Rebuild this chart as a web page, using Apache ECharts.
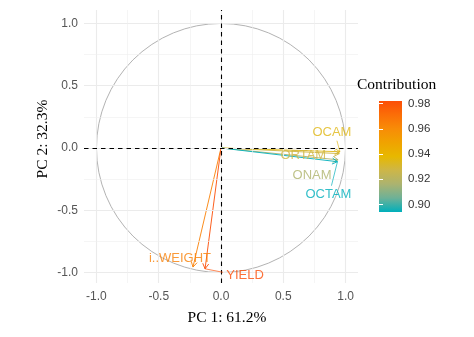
<!DOCTYPE html>
<html>
<head>
<meta charset="utf-8">
<script src="https://cdn.jsdelivr.net/npm/echarts@6/dist/echarts.min.js"></script>
<style>
html, body { margin: 0; padding: 0; background: #fff; }
#chart { width: 474px; height: 337px; }
</style>
</head>
<body>
<div id="chart"></div>
<script>
// variables, loadings on PC1 / PC2, contribution (cos2)
const varNames = ['OCAM', 'ORTAM', 'ONAM', 'OCTAM', 'i..WEIGHT', 'YIELD'];
const pc1 = [0.955, 0.95, 0.94, 0.935, -0.225, -0.128];
const pc2 = [-0.03, -0.045, -0.095, -0.11, -0.956, -0.97];
const contrib = [0.935, 0.928, 0.917, 0.894, 0.964, 0.982];

// tick labels
const axisTicks = [-1, -0.5, 0, 0.5, 1];
const minorTicks = [-0.75, -0.25, 0.25, 0.75];
const legendTicks = [0.90, 0.92, 0.94, 0.96, 0.98];

// gradient teal -> yellow -> orange (approx. Lab interpolation like ggplot)
const gradColors = ['#00AFBB', '#6DB197', '#ABB370', '#CDB648', '#E7B800', '#F0A300', '#F88C07', '#FB6E07', '#FC4E07'];

// label placement (pixel offsets from arrow tip, like ggrepel)
const labelNudge = {
    'OCAM': { dx: -8, dy: -19, leader: [-3, -11] },
    'ORTAM': { dx: -36, dy: 1.5 },
    'ONAM': { dx: -26, dy: 16 },
    'OCTAM': { dx: -9, dy: 33, leader: [-6, 24] },
    'i..WEIGHT': { dx: -13, dy: -9 },
    'YIELD': { dx: 40, dy: 7, leader: [18, 3.5] }
};

const cMin = Math.min(...contrib);
const cMax = Math.max(...contrib);
const sansFont = '"Liberation Sans", Arial, sans-serif';
const serifFont = '"Liberation Serif", "Times New Roman", serif';

const chart = echarts.init(document.getElementById('chart'));

const varData = varNames.map((n, i) => [pc1[i], pc2[i], contrib[i]]);

// 箭头
function renderArrow(params, api) {
    const o = api.coord([0, 0]);
    const p = api.coord([api.value(0), api.value(1)]);
    const color = api.visual('color');
    const ang = Math.atan2(p[1] - o[1], p[0] - o[0]);
    const len = 6, spread = Math.PI / 6;
    const h1 = [p[0] - len * Math.cos(ang - spread), p[1] - len * Math.sin(ang - spread)];
    const h2 = [p[0] - len * Math.cos(ang + spread), p[1] - len * Math.sin(ang + spread)];
    return {
        type: 'group',
        children: [
            { type: 'line', shape: { x1: o[0], y1: o[1], x2: p[0], y2: p[1] }, style: { stroke: color, lineWidth: 1, opacity: 0.9 } },
            { type: 'polyline', shape: { points: [h1, p, h2] }, style: { stroke: color, fill: 'none', lineWidth: 1, opacity: 0.9 } }
        ]
    };
}

// 标签
function renderLabel(params, api) {
    const name = varNames[params.dataIndex];
    const nudge = labelNudge[name];
    const p = api.coord([api.value(0), api.value(1)]);
    const color = api.visual('color');
    const children = [];
    if (nudge.leader) {
        children.push({
            type: 'line',
            shape: { x1: p[0], y1: p[1], x2: p[0] + nudge.leader[0], y2: p[1] + nudge.leader[1] },
            style: { stroke: color, lineWidth: 0.8, opacity: 0.85 }
        });
    }
    children.push({
        type: 'text',
        style: {
            text: name, x: p[0] + nudge.dx, y: p[1] + nudge.dy, fill: color, opacity: 0.8,
            font: '13px ' + sansFont, align: 'center', verticalAlign: 'middle'
        }
    });
    return { type: 'group', children: children };
}

// 相关圆
function renderCircle(params, api) {
    const c = api.coord([0, 0]);
    const r = api.size([1, 0])[0];
    return {
        type: 'circle',
        shape: { cx: c[0], cy: c[1], r: r },
        style: { stroke: '#b3b3b3', fill: 'none', lineWidth: 1 }
    };
}

// 色条
function renderColorbar(params, api) {
    const a = api.coord([0, cMax]);
    const b = api.coord([1, cMin]);
    return {
        type: 'rect',
        shape: { x: a[0], y: a[1], width: b[0] - a[0], height: b[1] - a[1] },
        style: {
            fill: new echarts.graphic.LinearGradient(0, 1, 0, 0,
                gradColors.map((c, i) => ({ offset: i / (gradColors.length - 1), color: c })))
        }
    };
}

const gridLines = [];
axisTicks.forEach(v => {
    gridLines.push({ xAxis: v, lineStyle: { color: '#ebebeb', width: 1.1, type: 'solid' } });
    gridLines.push({ yAxis: v, lineStyle: { color: '#ebebeb', width: 1.1, type: 'solid' } });
});
minorTicks.forEach(v => {
    gridLines.push({ xAxis: v, lineStyle: { color: '#efefef', width: 0.6, type: 'solid' } });
    gridLines.push({ yAxis: v, lineStyle: { color: '#efefef', width: 0.6, type: 'solid' } });
});

const mainAxisCommon = {
    axisLine: { show: false },
    axisTick: { show: true, length: 4, lineStyle: { color: '#333', width: 1 }, customValues: axisTicks },
    axisLabel: {
        customValues: axisTicks, color: '#555', fontSize: 12, fontFamily: sansFont,
        formatter: v => Number(v).toFixed(1)
    },
    splitLine: { show: false }
};

const legendAxisCommon = {
    type: 'value', gridIndex: 1, min: cMin, max: cMax, z: 10,
    axisLine: { show: false },
    axisTick: { show: true, inside: true, length: 4, lineStyle: { color: '#fff', width: 1 }, customValues: legendTicks },
    splitLine: { show: false }
};

const options = {
    backgroundColor: '#fff',
    animation: false,
    grid: [
        { left: 84, top: 10, width: 274, height: 273 },
        { left: 379, top: 101, width: 23, height: 111 }
    ],
    xAxis: [
        Object.assign({ type: 'value', gridIndex: 0, min: -1.1, max: 1.1 }, mainAxisCommon,
            { axisLabel: Object.assign({}, mainAxisCommon.axisLabel, { margin: 8 }) }),
        { type: 'value', gridIndex: 1, min: 0, max: 1, show: false }
    ],
    yAxis: [
        Object.assign({ type: 'value', gridIndex: 0, min: -1.084, max: 1.108 }, mainAxisCommon,
            { axisLabel: Object.assign({}, mainAxisCommon.axisLabel, { margin: 6 }) }),
        Object.assign({}, legendAxisCommon, {
            position: 'right',
            axisLabel: {
                customValues: legendTicks, color: '#333', fontSize: 11.5, fontFamily: sansFont, margin: 6,
                formatter: v => Number(v).toFixed(2)
            }
        }),
        Object.assign({}, legendAxisCommon, { position: 'left', axisLabel: { show: false } })
    ],
    visualMap: {
        type: 'continuous', show: false, min: cMin, max: cMax, dimension: 2,
        seriesIndex: [3, 4], inRange: { color: gradColors }
    },
    graphic: [
        {
            type: 'text', x: 227, y: 318,
            style: { text: 'PC 1: 61.2%', font: '15.5px ' + serifFont, fill: '#000', align: 'center', verticalAlign: 'middle' }
        },
        {
            type: 'text', x: 43, y: 139, rotation: Math.PI / 2,
            style: { text: 'PC 2: 32.3%', font: '15.5px ' + serifFont, fill: '#000', align: 'center', verticalAlign: 'middle' }
        },
        {
            type: 'text', x: 357, y: 85,
            style: { text: 'Contribution', font: '15.5px ' + serifFont, fill: '#000', align: 'left', verticalAlign: 'middle' }
        }
    ],
    series: [
        {
            // 网格线
            type: 'line', xAxisIndex: 0, yAxisIndex: 0, data: [[0, 0]], symbol: 'none',
            lineStyle: { opacity: 0 }, silent: true, z: 1,
            markLine: { silent: true, symbol: ['none', 'none'], label: { show: false }, data: gridLines }
        },
        {
            type: 'custom', xAxisIndex: 0, yAxisIndex: 0, data: [[0, 0]], renderItem: renderCircle,
            silent: true, z: 2
        },
        {
            // 零线
            type: 'line', xAxisIndex: 0, yAxisIndex: 0, data: [[0, 0]], symbol: 'none',
            lineStyle: { opacity: 0 }, silent: true, z: 3,
            markLine: {
                silent: true, symbol: ['none', 'none'], label: { show: false },
                lineStyle: { color: '#000', type: [4.5, 4], width: 1.1 },
                data: [{ xAxis: 0 }, { yAxis: 0 }]
            }
        },
        {
            type: 'custom', xAxisIndex: 0, yAxisIndex: 0, data: varData, renderItem: renderArrow,
            dimensions: ['pc1', 'pc2', 'contrib'], encode: { x: 0, y: 1 }, z: 4
        },
        {
            type: 'custom', xAxisIndex: 0, yAxisIndex: 0, data: varData, renderItem: renderLabel,
            dimensions: ['pc1', 'pc2', 'contrib'], encode: { x: 0, y: 1 }, z: 5
        },
        {
            type: 'custom', xAxisIndex: 1, yAxisIndex: 1, data: [[0, cMin]], renderItem: renderColorbar,
            silent: true, z: 2
        }
    ]
};

chart.setOption(options);
</script>
</body>
</html>
